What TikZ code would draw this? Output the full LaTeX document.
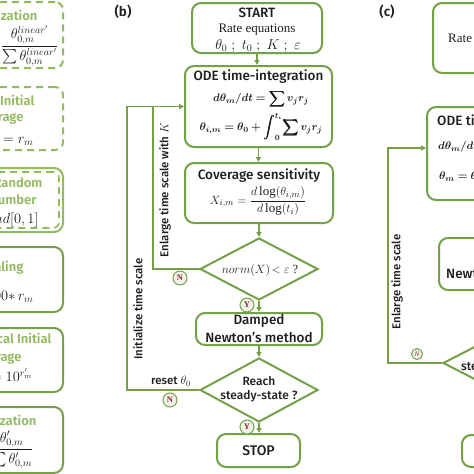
\documentclass[tikz,border=0pt]{standalone}
\usepackage{amsmath,bm}
\usepackage{fontspec}
\setmainfont{Liberation Serif}
\setsansfont{Fira Sans}[UprightFont={* Medium},BoldFont={* SemiBold}]
\usetikzlibrary{shapes.geometric,arrows.meta}
\definecolor{gb}{RGB}{118,160,72}
\definecolor{gl}{RGB}{146,186,96}
\definecolor{ynred}{RGB}{150,30,50}
\definecolor{tx}{RGB}{30,30,30}
\begin{document}
\begin{tikzpicture}[x=1pt,y=-1pt,
 box/.style={draw=gb,line width=2pt,rounded corners=9pt,fill=white,inner sep=0pt},
 dbox/.style={draw=gl,line width=2pt,rounded corners=8pt,dash pattern=on 7pt off 5pt},
 decis/.style={diamond,draw=gb,line width=2pt,fill=white,inner sep=0pt},
 conn/.style={draw=gb,line width=1.6pt},
 arr/.style={conn,-{Triangle[length=5pt,width=5pt]}},
 yn/.style={circle,draw=gb,line width=1pt,fill=gb!12,inner sep=0pt,minimum size=14pt,font=\rmfamily\bfseries\fontsize{8.5}{9}\selectfont,text=ynred},
 ttl/.style={font=\sffamily\bfseries\fontsize{13}{15}\selectfont,text=gl,anchor=east},
 eq/.style={anchor=east,font=\fontsize{14}{16}\selectfont,text=tx},
 plab/.style={font=\sffamily\bfseries\fontsize{13.5}{15}\selectfont,text=tx},
 side/.style={font=\sffamily\fontsize{11.5}{13}\selectfont,rotate=90,text=tx},
 stxt/.style={font=\sffamily\fontsize{13.5}{15}\selectfont,text=tx,inner sep=0pt},
 rtxt/.style={font=\fontsize{13}{15}\selectfont,text=tx,inner sep=0pt},
 mtxt/.style={font=\fontsize{11}{13}\selectfont,text=tx,inner sep=0pt},
]
\useasboundingbox (0,0) rectangle (474,474);
\clip (0,0) rectangle (474,474);
\fill[white] (0,0) rectangle (474,474);

% ---------- panel (a), partly cut off ----------
\node[dbox,minimum width=126pt,minimum height=66pt] (a1) at (0,35) {};
\node[dbox,minimum width=126pt,minimum height=63pt] (a2) at (0,118.5) {};
\node[draw=gl,line width=2pt,rounded corners=9pt,minimum width=126pt,minimum height=64pt] (a3) at (0,200) {};
\node[dbox,line width=1.6pt,minimum width=118pt,minimum height=56pt,rounded corners=6pt] (a3in) at (0,200) {};
\node[box,minimum width=126pt,minimum height=65pt] (a4) at (0,279.5) {};
\node[box,minimum width=126pt,minimum height=64pt] (a5) at (0,360) {};
\node[box,minimum width=126pt,minimum height=66pt] (a6) at (0,440) {};

\node[ttl] (a1t) at (41,15) {Normalization};
\node[eq] (a1e) at (62,46) {$\theta_{0,m}=\dfrac{\theta^{linear'}_{0,m}}{\sum\theta^{linear'}_{0,m}}$};
\node[ttl] (a2t) at (38,100) {Linear Initial};
\node[ttl] (a2u) at (27,118) {Coverage};
\node[eq] (a2e) at (37,140) {$\theta^{linear'}_{0,m}=r_m$};
\node[ttl] (a3t) at (46,183) {Random};
\node[ttl] (a3u) at (40,200) {number};
\node[eq] (a3e) at (42,220) {$r_m=rand[0,1]$};
\node[ttl] (a4t) at (27,268) {Scaling};
\node[eq] (a4e) at (37,297) {$r'_m=100{*}\,r_m$};
\node[ttl] (a5t) at (55,340) {Logarithmical Initial};
\node[ttl] (a5u) at (25,358) {Coverage};
\node[eq] (a5e) at (36,378) {$\theta'_{0,m}=10^{r'_m}$};
\node[ttl] (a6t) at (40,420) {Normalization};
\node[eq] (a6e) at (37,450) {$\theta_{0,m}=\dfrac{\theta'_{0,m}}{\sum\theta'_{0,m}}$};

% ---------- panel (b) ----------
\node[plab] (lb) at (123,12) {(b)};
\node[box,minimum width=130pt,minimum height=50pt] (start) at (257,28) {};
\node[stxt] (startt) at (257,13) {START};
\node[rtxt] (startr) at (257,30) {Rate equations};
\node[rtxt,font=\fontsize{14}{16}\selectfont] (startm) at (258,46) {$\theta_0\;;\;t_0\;;\;K\;;\;\varepsilon$};

\node[box,minimum width=147pt,minimum height=81pt] (ode) at (258.5,106.5) {};
\node[stxt] (odet) at (258.5,77) {ODE time-integration};
\node[mtxt] (odee1) at (261,99) {$\bm{d\theta_m/dt=\displaystyle\sum v_jr_j}$};
\node[mtxt] (odee2) at (261,127) {$\bm{\theta_{i,m}=\theta_0+\displaystyle\int_0^{t_i}\!\sum v_jr_j}$};

\node[box,minimum width=148pt,minimum height=60pt] (cov) at (259,193) {};
\node[stxt] (covt) at (259,176) {Coverage sensitivity};
\node[rtxt] (cove) at (258,201) {$X_{i,m}=\dfrac{d\log(\theta_{i,m})}{d\log(t_i)}$};

\node[decis,minimum width=118pt,minimum height=62pt] (d1) at (259,269) {};
\node[rtxt,font=\fontsize{12.5}{14}\selectfont] (d1t) at (260,270) {$norm(X)\!<\varepsilon$ ?};

\node[box,minimum width=126pt,minimum height=32pt] (damp) at (259,329) {};
\node[stxt] (dampt) at (259,321) {Damped};
\node[stxt] (dampu) at (259,337.5) {Newton's method};

\node[decis,minimum width=118pt,minimum height=64pt] (d2) at (259,390) {};
\node[stxt,font=\sffamily\fontsize{12}{14}\selectfont] (d2t) at (259,381) {Reach};
\node[stxt,font=\sffamily\fontsize{12}{14}\selectfont] (d2u) at (259,396) {steady-state ?};

\node[box,minimum width=83pt,minimum height=33pt] (stop) at (258.5,450.5) {};
\node[stxt,font=\sffamily\fontsize{14}{16}\selectfont] (stopt) at (258.5,451) {STOP};

\draw[arr] (start.south) -- (start.south |- ode.north);
\draw[arr] (ode.south) -- (ode.south |- cov.north);
\draw[arr] (cov.south) -- (cov.south |- d1.north);
\draw[arr] (d1.south) -- (d1.south |- damp.north);
\draw[arr] (damp.south) -- (damp.south |- d2.north);
\draw[arr] (d2.south) -- (d2.south |- stop.north);

\coordinate (bin) at (153,0);
\coordinate (bout) at (127,0);
\draw[conn] (d1.west) -| (bin |- ode.west);
\draw[arr] (d2.west) -| (bout |- ode.west) -- (ode.west);

\node[side] (lbl1) at (165,190) {Enlarge time scale with $K$};
\node[side] (lbl2) at (138,309) {Initialize time scale};
\node[font=\sffamily\fontsize{11.5}{13}\selectfont,text=tx] (reset) at (171,381) {reset $\theta_0$};

\node[yn] (n1) at (180,278) {N};
\node[yn] (y1) at (247,305) {Y};
\node[yn] (n2) at (170,400) {N};
\node[yn] (y2) at (247,427) {Y};

% ---------- panel (c), partly cut off ----------
\node[plab] (lc) at (387,12) {(c)};
\node[box,minimum width=110pt,minimum height=70pt] (rc) at (488,38) {};
\node[rtxt,anchor=west] (rct) at (448,40) {Rate equations};
\node[box,minimum width=150pt,minimum height=93pt] (odec) at (502,153.5) {};
\node[stxt,anchor=west] (odect) at (437,122) {ODE time-integration};
\node[mtxt,anchor=west] (odece1) at (438,147) {$\bm{d\theta_m/dt=\sum v_jr_j}$};
\node[mtxt,anchor=west] (odece2) at (439,177) {$\bm{\theta_m=\theta_0+\int\sum v_jr_j}$};
\node[box,minimum width=120pt,minimum height=52pt] (newc) at (499,264) {};
\node[stxt,anchor=west] (newct) at (446,273) {Newton's method};
\node[decis,minimum width=120pt,minimum height=62pt] (dc) at (503,363) {};
\node[stxt,anchor=west,font=\sffamily\fontsize{12}{14}\selectfont] (dct) at (461,367) {steady-state ?};
\node[box,minimum width=80pt,minimum height=32pt] (stopc) at (502,451) {};

\coordinate (cl) at (388,148);
\draw[arr] (dc.west) -| (cl) -- (cl -| odec.west);
\node[side] (lblc) at (397,282) {Enlarge time scale};
\node[yn,minimum size=11pt,font=\rmfamily\itshape\fontsize{7}{8}\selectfont] (nc) at (417,354) {N};
\end{tikzpicture}
\end{document}
